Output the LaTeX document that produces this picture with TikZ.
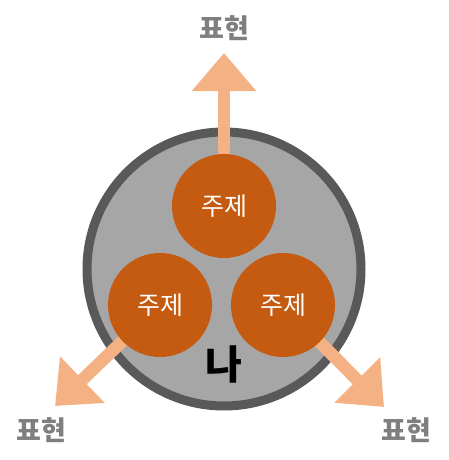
\documentclass[tikz,border=0pt]{standalone}
\usepackage{fontspec}
\newfontfamily\krfont{Noto Sans CJK KR}
\usetikzlibrary{arrows.meta}

\definecolor{topicorange}{HTML}{C55A11}
\definecolor{arrowpeach}{HTML}{F4B183}
\definecolor{selfgray}{HTML}{A6A6A6}
\definecolor{rimgray}{HTML}{595959}
\definecolor{labelgray}{HTML}{7F7F7F}

\tikzset{
  topic/.style={circle, fill=topicorange, minimum size=104pt, inner sep=0pt, text=white, font=\krfont\fontsize{25}{25}\selectfont},
  outflow/.style={draw=arrowpeach, line width=12.5pt, -{Triangle[width=62pt,length=38pt]}},
  expr/.style={text=labelgray, font=\krfont\bfseries\fontsize{27}{27}\selectfont}
}

\begin{document}
\begin{tikzpicture}[x=1pt,y=-1pt]
  \useasboundingbox (0,0) rectangle (448,460);

  \node [circle, draw=rimgray, fill=selfgray, line width=9pt, minimum size=274pt] (self) at (224,269) {};
  \node [font=\krfont\bfseries\fontsize{40}{40}\selectfont] (me) at (224,364) {나};

  \coordinate (t1) at (224,206);
  \coordinate (t2) at (160,305);
  \coordinate (t3) at (283,305);

  \coordinate (e1) at (224,53);
  \coordinate (e2) at (55,406);
  \coordinate (e3) at (384,407);

  \foreach \i in {1,2,3}
  {
    \draw [outflow] (t\i) -- (e\i);
  }
  \foreach \i in {1,2,3}
  {
    \node [topic] (topic\i) at (t\i) {주제};
  }

  \node [expr] (l1) at (224,28) {표현};
  \node [expr] (l2) at (41,430) {표현};
  \node [expr] (l3) at (406,430) {표현};
\end{tikzpicture}
\end{document}
